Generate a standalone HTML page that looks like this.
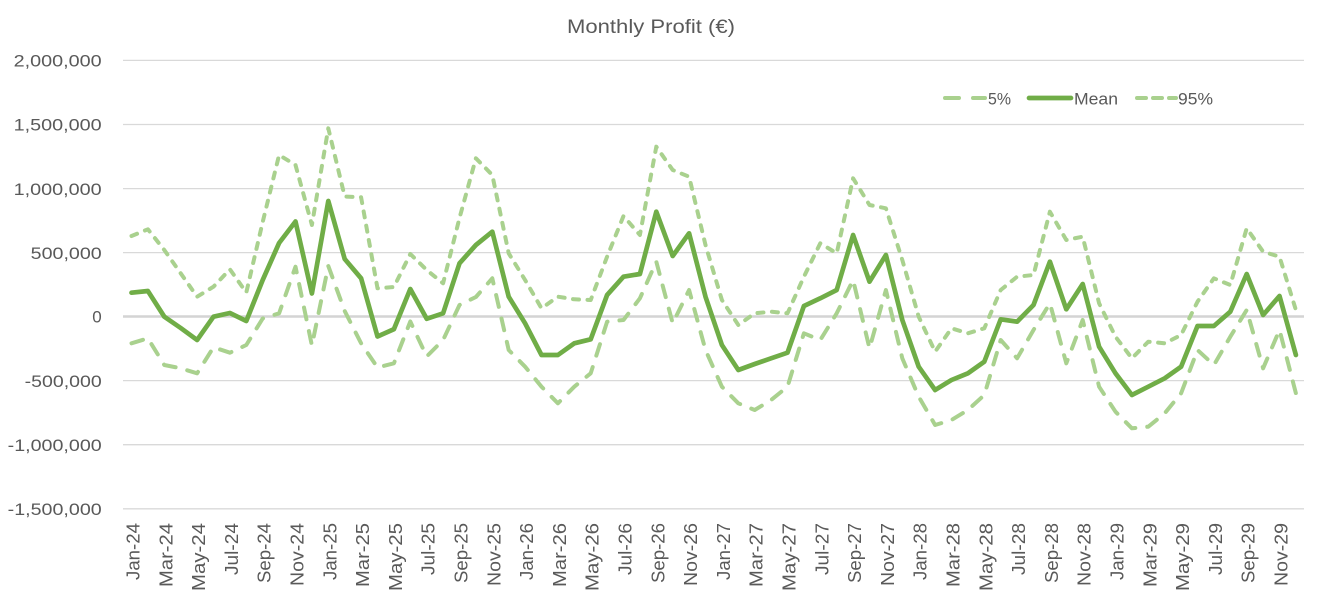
<!DOCTYPE html>
<html><head><meta charset="utf-8">
<style>
html,body{margin:0;padding:0;background:#fff;}
svg{display:block;}
text{font-family:"Liberation Sans",Arial,sans-serif;fill:#595959;}
</style></head>
<body>
<svg width="1320" height="600" viewBox="0 0 1320 600" xmlns="http://www.w3.org/2000/svg">
<rect width="1320" height="600" fill="#fff"/>
<text x="651" y="33" font-size="19.5" text-anchor="middle" textLength="168" lengthAdjust="spacingAndGlyphs">Monthly Profit (€)</text>
<g stroke="#D9D9D9" stroke-width="1.3">
<line x1="123" y1="60.4" x2="1304" y2="60.4"/>
<line x1="123" y1="124.5" x2="1304" y2="124.5"/>
<line x1="123" y1="188.6" x2="1304" y2="188.6"/>
<line x1="123" y1="252.6" x2="1304" y2="252.6"/>
<line x1="123" y1="380.6" x2="1304" y2="380.6"/>
<line x1="123" y1="444.7" x2="1304" y2="444.7"/>
<line x1="123" y1="508.8" x2="1304" y2="508.8"/>
</g>
<line x1="123" y1="316.5" x2="1304" y2="316.5" stroke="#D4D4D4" stroke-width="2.6"/>
<g font-size="17" text-anchor="end">
<text x="101.7" y="66.6" textLength="88" lengthAdjust="spacingAndGlyphs">2,000,000</text>
<text x="101.7" y="130.7" textLength="88" lengthAdjust="spacingAndGlyphs">1,500,000</text>
<text x="101.7" y="194.8" textLength="88" lengthAdjust="spacingAndGlyphs">1,000,000</text>
<text x="101.7" y="258.8" textLength="71" lengthAdjust="spacingAndGlyphs">500,000</text>
<text x="101.7" y="322.7">0</text>
<text x="101.7" y="386.8" textLength="77" lengthAdjust="spacingAndGlyphs">-500,000</text>
<text x="101.7" y="450.9" textLength="94" lengthAdjust="spacingAndGlyphs">-1,000,000</text>
<text x="101.7" y="515" textLength="94" lengthAdjust="spacingAndGlyphs">-1,500,000</text>
</g>
<g font-size="18" text-anchor="end" lengthAdjust="spacingAndGlyphs">
<text transform="translate(139.5,523) rotate(-90)" textLength="57" lengthAdjust="spacingAndGlyphs">Jan-24</text>
<text transform="translate(172.3,523) rotate(-90)" textLength="64" lengthAdjust="spacingAndGlyphs">Mar-24</text>
<text transform="translate(205.1,523) rotate(-90)" textLength="68" lengthAdjust="spacingAndGlyphs">May-24</text>
<text transform="translate(237.9,523) rotate(-90)" textLength="52" lengthAdjust="spacingAndGlyphs">Jul-24</text>
<text transform="translate(270.7,523) rotate(-90)" textLength="60" lengthAdjust="spacingAndGlyphs">Sep-24</text>
<text transform="translate(303.5,523) rotate(-90)" textLength="63" lengthAdjust="spacingAndGlyphs">Nov-24</text>
<text transform="translate(336.3,523) rotate(-90)" textLength="57" lengthAdjust="spacingAndGlyphs">Jan-25</text>
<text transform="translate(369.1,523) rotate(-90)" textLength="64" lengthAdjust="spacingAndGlyphs">Mar-25</text>
<text transform="translate(401.9,523) rotate(-90)" textLength="68" lengthAdjust="spacingAndGlyphs">May-25</text>
<text transform="translate(434.7,523) rotate(-90)" textLength="52" lengthAdjust="spacingAndGlyphs">Jul-25</text>
<text transform="translate(467.5,523) rotate(-90)" textLength="60" lengthAdjust="spacingAndGlyphs">Sep-25</text>
<text transform="translate(500.3,523) rotate(-90)" textLength="63" lengthAdjust="spacingAndGlyphs">Nov-25</text>
<text transform="translate(533.1,523) rotate(-90)" textLength="57" lengthAdjust="spacingAndGlyphs">Jan-26</text>
<text transform="translate(565.9,523) rotate(-90)" textLength="64" lengthAdjust="spacingAndGlyphs">Mar-26</text>
<text transform="translate(598.7,523) rotate(-90)" textLength="68" lengthAdjust="spacingAndGlyphs">May-26</text>
<text transform="translate(631.5,523) rotate(-90)" textLength="52" lengthAdjust="spacingAndGlyphs">Jul-26</text>
<text transform="translate(664.3,523) rotate(-90)" textLength="60" lengthAdjust="spacingAndGlyphs">Sep-26</text>
<text transform="translate(697.1,523) rotate(-90)" textLength="63" lengthAdjust="spacingAndGlyphs">Nov-26</text>
<text transform="translate(729.9,523) rotate(-90)" textLength="57" lengthAdjust="spacingAndGlyphs">Jan-27</text>
<text transform="translate(762.7,523) rotate(-90)" textLength="64" lengthAdjust="spacingAndGlyphs">Mar-27</text>
<text transform="translate(795.5,523) rotate(-90)" textLength="68" lengthAdjust="spacingAndGlyphs">May-27</text>
<text transform="translate(828.3,523) rotate(-90)" textLength="52" lengthAdjust="spacingAndGlyphs">Jul-27</text>
<text transform="translate(861.1,523) rotate(-90)" textLength="60" lengthAdjust="spacingAndGlyphs">Sep-27</text>
<text transform="translate(893.9,523) rotate(-90)" textLength="63" lengthAdjust="spacingAndGlyphs">Nov-27</text>
<text transform="translate(926.7,523) rotate(-90)" textLength="57" lengthAdjust="spacingAndGlyphs">Jan-28</text>
<text transform="translate(959.5,523) rotate(-90)" textLength="64" lengthAdjust="spacingAndGlyphs">Mar-28</text>
<text transform="translate(992.3,523) rotate(-90)" textLength="68" lengthAdjust="spacingAndGlyphs">May-28</text>
<text transform="translate(1025.1,523) rotate(-90)" textLength="52" lengthAdjust="spacingAndGlyphs">Jul-28</text>
<text transform="translate(1057.9,523) rotate(-90)" textLength="60" lengthAdjust="spacingAndGlyphs">Sep-28</text>
<text transform="translate(1090.7,523) rotate(-90)" textLength="63" lengthAdjust="spacingAndGlyphs">Nov-28</text>
<text transform="translate(1123.5,523) rotate(-90)" textLength="57" lengthAdjust="spacingAndGlyphs">Jan-29</text>
<text transform="translate(1156.3,523) rotate(-90)" textLength="64" lengthAdjust="spacingAndGlyphs">Mar-29</text>
<text transform="translate(1189.1,523) rotate(-90)" textLength="68" lengthAdjust="spacingAndGlyphs">May-29</text>
<text transform="translate(1221.9,523) rotate(-90)" textLength="52" lengthAdjust="spacingAndGlyphs">Jul-29</text>
<text transform="translate(1254.7,523) rotate(-90)" textLength="60" lengthAdjust="spacingAndGlyphs">Sep-29</text>
<text transform="translate(1287.5,523) rotate(-90)" textLength="63" lengthAdjust="spacingAndGlyphs">Nov-29</text>
</g>
<!-- 95% upper (short dash) -->
<polyline fill="none" stroke="#A9D18E" stroke-width="4" stroke-linecap="round" stroke-linejoin="round" stroke-dasharray="6 8.5"
points="131.5,236 147.9,229.3 164.3,250 180.7,273.3 197.1,296.7 213.5,286.7 229.9,269.3 246.3,292.5 262.7,222 279.1,155 295.5,165 311.9,225 328.3,128.3 344.7,196.5 361.1,197.3 377.5,288.3 393.9,287 410.3,254 426.7,270 443.1,283.3 459.5,218 475.9,158.3 492.3,175 508.7,253.3 525.1,280 541.5,308.3 557.9,296.7 574.3,299.3 590.7,300 607.1,256.7 623.5,216 639.9,235 656.3,146.7 672.7,170 689.1,176.7 705.5,245 721.9,300 738.3,325 754.7,313.3 771.1,311.7 787.5,313.3 803.9,276.7 820.3,243.3 836.7,253.3 853.1,178.3 869.5,205 885.9,208.3 902.3,260 918.7,316.7 935.1,351.7 951.5,328.3 967.9,333.3 984.3,328.3 1000.7,290 1017.1,276.7 1033.5,275 1049.9,211.7 1066.3,240 1082.7,236.7 1099.1,303.3 1115.5,336.7 1131.9,358.3 1148.3,341.7 1164.7,343.3 1181.1,335 1197.5,301.7 1213.9,278.3 1230.3,285 1246.7,228.3 1263.1,251.7 1279.5,256.7 1295.9,310"/>
<!-- 5% lower (long dash) -->
<polyline fill="none" stroke="#A9D18E" stroke-width="4" stroke-linecap="round" stroke-linejoin="round" stroke-dasharray="12 12"
points="131.5,343.3 147.9,338.3 164.3,365 180.7,368.3 197.1,373.3 213.5,347.3 229.9,352.7 246.3,345 262.7,318.5 279.1,313.3 295.5,266.7 311.9,345.5 328.3,266 344.7,311 361.1,343.3 377.5,367.5 393.9,363.3 410.3,321.5 426.7,356.5 443.1,340 459.5,305 475.9,297 492.3,278.3 508.7,350 525.1,366.7 541.5,386.7 557.9,403.3 574.3,386.7 590.7,373.3 607.1,321.7 623.5,320 639.9,298.3 656.3,261.7 672.7,323.3 689.1,290 705.5,350 721.9,386.7 738.3,403.3 754.7,410 771.1,400 787.5,386.7 803.9,333.3 820.3,340 836.7,313.3 853.1,280 869.5,348.3 885.9,290 902.3,358.3 918.7,396.7 935.1,425 951.5,420 967.9,410 984.3,395 1000.7,340 1017.1,358.3 1033.5,330 1049.9,303.3 1066.3,363.3 1082.7,320 1099.1,386.7 1115.5,411.7 1131.9,428.3 1148.3,426.7 1164.7,413.3 1181.1,393.3 1197.5,350 1213.9,365 1230.3,336.7 1246.7,310 1263.1,368.3 1279.5,330 1295.9,393.3"/>
<!-- Mean -->
<polyline fill="none" stroke="#70AD47" stroke-width="4.7" stroke-linecap="round" stroke-linejoin="round"
points="131.5,292.7 147.9,291 164.3,316.7 180.7,328 197.1,340 213.5,316.7 229.9,313 246.3,321 262.7,280 279.1,243 295.5,221.5 311.9,293.5 328.3,201 344.7,259 361.1,278.3 377.5,336.5 393.9,329.2 410.3,289 426.7,318.8 443.1,313.3 459.5,263.3 475.9,245 492.3,231.7 508.7,296.7 525.1,323.3 541.5,355 557.9,355 574.3,343.3 590.7,339.3 607.1,295 623.5,276.7 639.9,274 656.3,211.7 672.7,256 689.1,233.3 705.5,296.7 721.9,345 738.3,370 754.7,364 771.1,358.3 787.5,352.7 803.9,306 820.3,298.3 836.7,290 853.1,235 869.5,281.7 885.9,255 902.3,320 918.7,366.7 935.1,390 951.5,380 967.9,373.3 984.3,361.7 1000.7,319.3 1017.1,321.7 1033.5,305 1049.9,261.7 1066.3,309.3 1082.7,284 1099.1,346.7 1115.5,373.3 1131.9,395 1148.3,386.7 1164.7,378.3 1181.1,366.7 1197.5,326 1213.9,326 1230.3,311.7 1246.7,274 1263.1,315 1279.5,296 1295.9,355"/>
<!-- Legend -->
<line x1="945" y1="98" x2="985" y2="98" stroke="#A9D18E" stroke-width="4" stroke-linecap="round" stroke-dasharray="14 14"/>
<text x="988" y="104.5" font-size="17" textLength="23" lengthAdjust="spacingAndGlyphs">5%</text>
<line x1="1029" y1="98" x2="1071" y2="98" stroke="#70AD47" stroke-width="4.7" stroke-linecap="round"/>
<text x="1074" y="104.5" font-size="17" textLength="44" lengthAdjust="spacingAndGlyphs">Mean</text>
<line x1="1137" y1="98" x2="1176" y2="98" stroke="#A9D18E" stroke-width="4" stroke-linecap="round" stroke-dasharray="9 7"/>
<text x="1178" y="104.5" font-size="17" textLength="35" lengthAdjust="spacingAndGlyphs">95%</text>
</svg>
</body></html>
